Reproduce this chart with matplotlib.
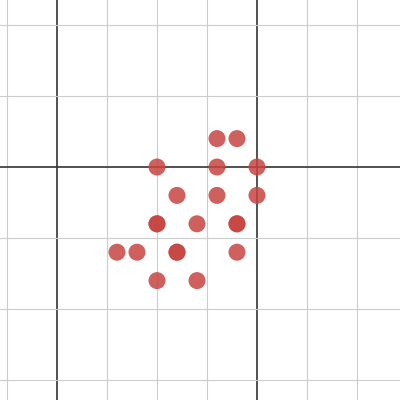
import numpy as np
import matplotlib.pyplot as plt

# point coordinates (grid units); duplicates drawn twice appear darker
xs = [3.2, 3.6, 2.0, 3.2, 4.0, 2.4, 3.2, 4.0, 2.0, 2.0, 2.8, 3.6, 3.6, 1.2, 1.6, 2.4, 2.4, 3.6, 2.0, 2.8]
ys = [0.4, 0.4, 0.0, 0.0, 0.0, -0.4, -0.4, -0.4, -0.8, -0.8, -0.8, -0.8, -0.8, -1.2, -1.2, -1.2, -1.2, -1.2, -1.6, -1.6]

fig = plt.figure(figsize=(4, 4), dpi=100)
ax = fig.add_axes([0, 0, 1, 1])
ax.set_xlim(-57/50, 343/50)
ax.set_ylim(-233/71, 167/71)

for gx in range(-1, 7):
    ax.axvline(gx, color='#333333' if gx % 4 == 0 else '#cccccc', lw=1.2 if gx % 4 == 0 else 0.8, zorder=0)
for gy in range(-3, 3):
    ax.axhline(gy, color='#333333' if gy == 0 else '#cccccc', lw=1.2 if gy == 0 else 0.8, zorder=0)

ax.scatter(xs, ys, s=150, color='#c74440', alpha=0.85, edgecolors='none', zorder=3)
ax.axis('off')
fig.savefig('out.png')
